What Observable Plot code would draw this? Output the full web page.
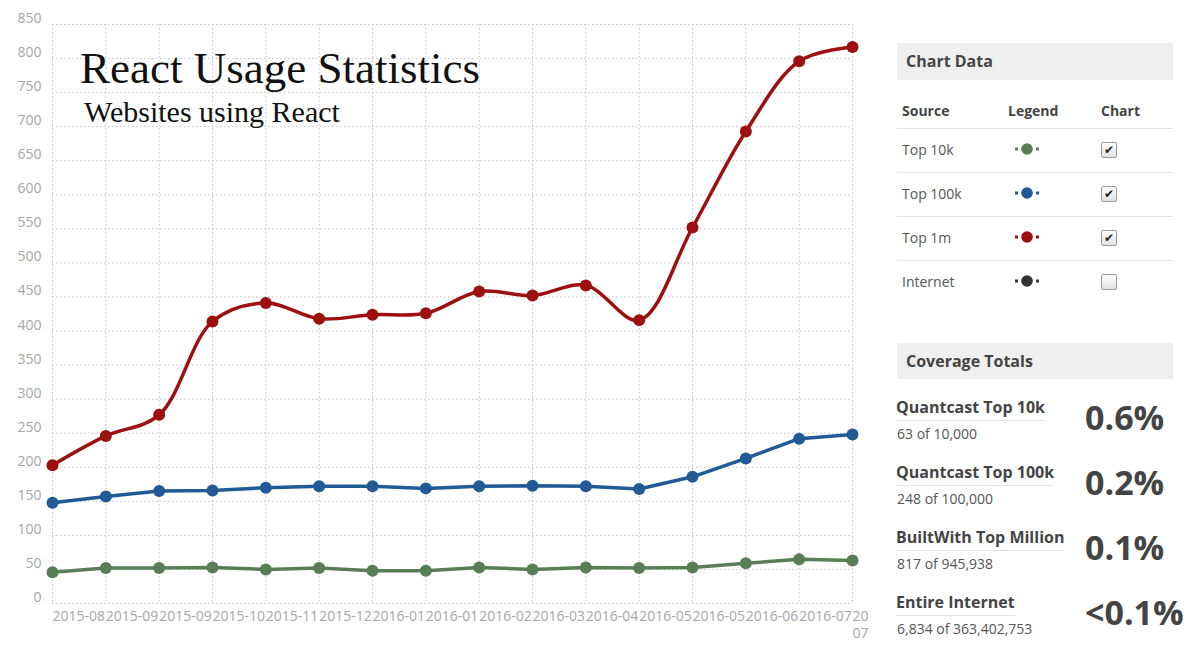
<!DOCTYPE html>
<html>
<head>
<meta charset="utf-8">
<script src="https://cdn.jsdelivr.net/npm/d3@7"></script>
<script src="https://cdn.jsdelivr.net/npm/@observablehq/plot@0.6"></script>
<style>
  html, body { margin: 0; padding: 0; background: #fff; }
  #page { position: relative; width: 1200px; height: 647px; overflow: hidden; font-family: "Open Sans", sans-serif; }
  #chart { position: absolute; left: 0; top: 0; }
  .title { position: absolute; font-family: "Liberation Serif", serif; color: #111; white-space: nowrap; line-height: 1; }
  #panel { position: absolute; left: 897px; top: 0; width: 276px; height: 647px; color: #444; }
  #panel .abs { position: absolute; white-space: nowrap; }
  .hdr { background: #efefef; left: 0; width: 276px; font-weight: bold; font-size: 16px; padding-left: 9px; box-sizing: border-box; }
  .rule { height: 1px; background: #e2e2e2; left: 0; width: 276px; }
  .chk { width: 14px; height: 14px; border: 1px solid #9a9a9a; border-radius: 2px; background: linear-gradient(#fdfdfd, #e2e2e2); font-size: 12px; line-height: 14px; text-align: center; color: #222; font-family: "DejaVu Sans", sans-serif; }
</style>
</head>
<body>
<div id="page">
  <div id="chart"></div>
  <div class="title" id="t1" style="left:80px; top:46px; font-size:45px;"></div>
  <div class="title" id="t2" style="left:84px; top:97px; font-size:30px;"></div>
  <div id="panel"></div>
</div>
<script>
// ---- data ----
const titleText = "React Usage Statistics";
const subtitleText = "Websites using React";
const dates = ["2015-08","2015-09","2015-09","2015-10","2015-11","2015-12","2016-01","2016-01","2016-02","2016-03","2016-04","2016-05","2016-05","2016-06","2016-07","2016-07"];
const top10k  = [46, 52, 52, 53, 50, 52, 48, 48, 53, 50, 53, 52, 53, 59, 65, 63];
const top100k = [148, 157, 165, 166, 170, 172, 172, 169, 172, 173, 172, 168, 186, 213, 242, 248];
const top1m   = [203, 246, 277, 414, 441, 418, 424, 426, 458, 452, 467, 416, 552, 693, 796, 817];
const yTicks = [0,50,100,150,200,250,300,350,400,450,500,550,600,650,700,750,800,850];

const seriesNames = ["Top 10k", "Top 100k", "Top 1m", "Internet"];
const seriesColors = ["#587d57", "#215a94", "#9c1010", "#333333"];
const seriesChecked = [true, true, true, false];

const coverageLabels = ["Quantcast Top 10k", "Quantcast Top 100k", "BuiltWith Top Million", "Entire Internet"];
const coverageCounts = ["63 of 10,000", "248 of 100,000", "817 of 945,938", "6,834 of 363,402,753"];
const coveragePct = ["0.6%", "0.2%", "0.1%", "<0.1%"];

// ---- chart ----
const idx = dates.map((d, i) => i);
const rows = (vals, name) => vals.map((v, i) => ({i, v, name}));
const green = rows(top10k, "Top 10k");
const blue = rows(top100k, "Top 100k");
const red = rows(top1m, "Top 1m");
const grid = {stroke: "#c4c4c4", strokeOpacity: 1, strokeDasharray: "1.5,2.5", strokeWidth: 1};
const lastLabel = (s, i) => i === dates.length - 1 ? s.slice(0, 2) + "\n" + s.slice(-2) : s;

const chart = Plot.plot({
  width: 875,
  height: 647,
  marginLeft: 52,
  marginRight: 23,
  marginTop: 24,
  marginBottom: 44,
  style: {background: "transparent", color: "#a6a6a6", fontFamily: "Open Sans", fontSize: "14px", overflow: "visible"},
  x: {domain: [0, dates.length - 1], axis: null},
  y: {domain: [0, 850], axis: null},
  color: {domain: seriesNames, range: seriesColors},
  marks: [
    Plot.ruleY(yTicks, {y: d => d, ...grid}),
    Plot.ruleX(idx, {x: d => d, ...grid}),
    Plot.axisY({ticks: yTicks, tickSize: 0, tickPadding: 11, dy: -6, fontSize: 14, fill: "#a6a6a6", label: null}),
    Plot.text(idx, {x: d => d, frameAnchor: "bottom", text: i => lastLabel(dates[i], i), textAnchor: "start", lineAnchor: "top", dy: 6, fontSize: 14, fill: "#a6a6a6", lineHeight: 1.2}),
    Plot.line(green, {x: "i", y: "v", stroke: "name", strokeWidth: 3.5}),
    Plot.line(blue, {x: "i", y: "v", stroke: "name", strokeWidth: 3.5}),
    Plot.line(red, {x: "i", y: "v", stroke: "name", strokeWidth: 3.5, curve: "catmull-rom"}),
    Plot.dot(green, {x: "i", y: "v", fill: "name", r: 6}),
    Plot.dot(blue, {x: "i", y: "v", fill: "name", r: 6}),
    Plot.dot(red, {x: "i", y: "v", fill: "name", r: 6})
  ]
});
document.getElementById("chart").appendChild(chart);
document.getElementById("t1").textContent = titleText;
document.getElementById("t2").textContent = subtitleText;

// ---- side panel ----
const panel = document.getElementById("panel");
function add(html, style, cls) {
  const d = document.createElement("div");
  d.className = "abs" + (cls ? " " + cls : "");
  d.setAttribute("style", style);
  d.innerHTML = html;
  panel.appendChild(d);
  return d;
}
add("Chart Data", "top:43px; height:37px; line-height:37px;", "hdr");
add("Source", "left:5px; top:100px; line-height:22px; font-size:14px; font-weight:bold;");
add("Legend", "left:111px; top:100px; line-height:22px; font-size:14px; font-weight:bold;");
add("Chart", "left:204px; top:100px; line-height:22px; font-size:14px; font-weight:bold;");
add("", "top:128px;", "rule");
seriesNames.forEach((name, i) => {
  const cy = 150 + 44 * i;
  add(name, `left:5px; top:${cy - 10}px; line-height:20px; font-size:14px; color:#555;`);
  const c = seriesColors[i];
  add(`<svg width="30" height="14"><rect x="0" y="5.5" width="3" height="3" fill="${c}"/><circle cx="12" cy="7" r="5.8" fill="${c}"/><rect x="21" y="5.5" width="3" height="3" fill="${c}"/></svg>`,
      `left:118px; top:${cy - 8}px; line-height:0;`);
  add(seriesChecked[i] ? "&#10004;" : "", `left:204px; top:${cy - 8}px;`, "chk");
  if (i < seriesNames.length - 1) add("", `top:${cy + 22}px;`, "rule");
});
add("Coverage Totals", "top:343px; height:36px; line-height:36px;", "hdr");
coverageLabels.forEach((lab, i) => {
  const cy = 407 + 65 * i;
  add(`<span style="display:inline-block; border-bottom:1px solid #e2e2e2; padding-bottom:1px;">${lab}</span>`,
      `left:-1px; top:${cy - 11}px; line-height:23px; font-size:16px; font-weight:bold;`);
  add(coverageCounts[i], `left:0px; top:${cy + 17}px; line-height:20px; font-size:14px; color:#555;`);
  add(coveragePct[i], `left:188px; top:${cy - 12}px; line-height:44px; font-size:34px; font-weight:bold;`);
});
</script>
</body>
</html>
